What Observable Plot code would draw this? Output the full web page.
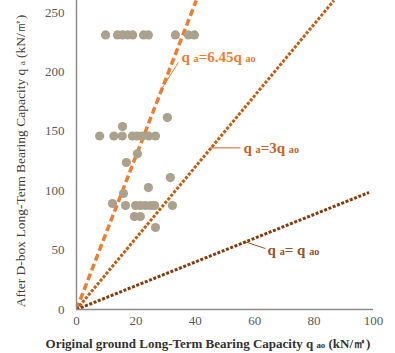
<!DOCTYPE html>
<html>
<head>
<meta charset="utf-8">
<script src="https://cdn.jsdelivr.net/npm/d3@7"></script>
<script src="https://cdn.jsdelivr.net/npm/@observablehq/plot@0.6"></script>
<style>
  html, body { margin: 0; padding: 0; background: #fff; }
  #chart svg, #chart svg text { font-family: "Liberation Serif", "DejaVu Serif", serif !important; }
</style>
</head>
<body>
<div id="chart"></div>
<script>
// ---- data ----
const qao = [9.8, 13.8, 15.5, 17.2, 18.9, 22.6, 24.2, 33.3, 37.7, 39.7,
             30.6, 15.5,
             7.8, 12.6, 15.4, 18.8, 20.4, 22.1, 24.3, 26.6,
             20.5, 16.8, 31.6, 24.2, 15.8, 12.1,
             16.5, 19.9, 21.5, 23.2, 24.9, 26.3, 32.3,
             19.5, 21.5, 26.6];
const qa  = [231, 231, 231, 231, 231, 231, 231, 231, 231, 231,
             161.5, 154,
             146, 146, 146, 146, 146, 146, 146, 146,
             131, 123.7, 111, 102.6, 97.6, 89.2,
             87.5, 87.5, 87.5, 87.5, 87.5, 87.5, 87.5,
             78.2, 78.2, 69];

const ratios = [6.45, 3, 1];
const ratioLabels = ["q |a|=6.45q |ao", "q |a|=3q |ao", "q |a|= q |ao"];
const xTicks = [0, 20, 40, 60, 80, 100];
const yTicks = [0, 50, 100, 150, 200, 250];
const xTitle = "Original ground Long-Term Bearing Capacity q |ao| (kN/㎡)";
const yTitle = "After D-box Long-Term Bearing Capacity q |a| (kN/㎡)";

// ---- layout / style ----
const X_MAX = 100, Y_MAX = 260, ONE_TO_ONE_END = 98.5;
const lineStyles = [
  {stroke: "#ED7D31", strokeWidth: 3.5, strokeDasharray: "7,3.5"},
  {stroke: "#C55A11", strokeWidth: 3, strokeDasharray: "3,1.6"},
  {stroke: "#843C0C", strokeWidth: 3, strokeDasharray: "3,1.6"}
];
const labelColors = ["#ED7D31", "#C8621E", "#96522A"];
// annotation anchor points (data coords): leader start, leader end / text start
const annot = [
  {x1: 28.8, y1: 186, x2: 34.3, y2: 208, tx: 35.0, ty: 212},
  {x1: 45.0, y1: 136, x2: 55.2, y2: 136, tx: 55.9, ty: 135.5},
  {x1: 56.9, y1: 56.9, x2: 63.6, y2: 51.3, tx: 64.0, ty: 49.6}
];

const points = qao.map((x, i) => ({x, y: qa[i]}));
const lines = ratios.map((k, i) => {
  const xEnd = k === 1 ? ONE_TO_ONE_END : Math.min(X_MAX, Y_MAX / k);
  return [{x: 0, y: 0}, {x: xEnd, y: k * xEnd}];
});

const marks = [];
lines.forEach((ln, i) => {
  marks.push(Plot.line(ln, {x: "x", y: "y", ...lineStyles[i], strokeLinecap: "butt", clip: true}));
});
marks.push(Plot.dot(points, {x: "x", y: "y", r: 4.6, fill: "#ABA18C", stroke: "none"}));
annot.forEach((a, i) => {
  marks.push(Plot.link([a], {x1: "x1", y1: "y1", x2: "x2", y2: "y2", stroke: labelColors[i], strokeWidth: 1}));
  marks.push(Plot.text([a], {x: "tx", y: "ty", text: () => ratioLabels[i], textAnchor: "start",
    lineAnchor: "middle", fill: labelColors[i], fontWeight: "bold", fontSize: 15, dx: 1}));
});
marks.push(Plot.ruleX([0], {stroke: "#8C8C8C", strokeWidth: 1.5}));
marks.push(Plot.ruleY([0], {stroke: "#8C8C8C", strokeWidth: 1.5}));
marks.push(Plot.text([yTitle], {frameAnchor: "left", textAnchor: "middle", lineAnchor: "middle",
  rotate: -90, dx: -56, dy: 6, fill: "#404040", fontSize: 13.5}));
marks.push(Plot.text([xTitle], {frameAnchor: "bottom", textAnchor: "middle", lineAnchor: "middle",
  dx: -17, dy: 34, fill: "#333333", fontSize: 13, fontWeight: "bold"}));

const chart = Plot.plot({
  width: 395,
  height: 353,
  marginLeft: 76,
  marginRight: 22,
  marginTop: 0,
  marginBottom: 44,
  style: "font-family: 'Liberation Serif', 'DejaVu Serif', serif; font-size: 13px; color: #595959; background: #fff;",
  x: {domain: [0, X_MAX], ticks: xTicks, tickSize: 0, tickPadding: 6, label: null},
  y: {domain: [0, Y_MAX], ticks: yTicks, tickSize: 0, tickPadding: 12, label: null},
  marks
});

// render "|...|" segments as smaller text
d3.select(chart).selectAll("text").each(function () {
  const t = this.textContent;
  if (!t.includes("|")) return;
  const parts = t.split("|");
  const sel = d3.select(this);
  sel.text(null);
  parts.forEach((p, i) => {
    const ts = sel.append("tspan").text(p);
    if (i % 2 === 1) ts.attr("font-size", "0.68em");
  });
});

document.getElementById("chart").appendChild(chart);
</script>
</body>
</html>
